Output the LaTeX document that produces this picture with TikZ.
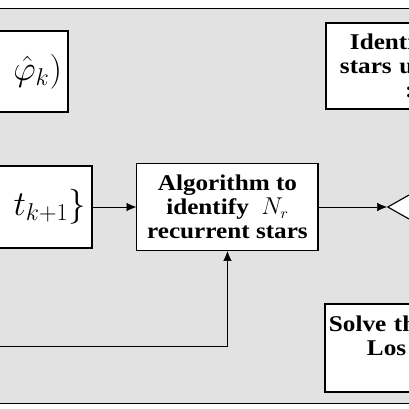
\documentclass[tikz,border=0pt]{standalone}
\usepackage{amsmath}
\usepackage{amssymb}
\usepackage{fontspec}
\setmainfont[FakeStretch=1.12]{Liberation Serif}
\usetikzlibrary{arrows.meta,shapes.geometric,positioning}
\definecolor{panelgray}{RGB}{226,226,226}

\begin{document}
\begin{tikzpicture}[x=0.025cm, y=-0.025cm, >={Latex[length=7pt,width=6pt]}]
\tikzset{node distance=2cm,
    block/.style={rectangle, draw, fill=white, line width=0.8pt, inner sep=0.1cm,
        font=\fontsize{16}{17}\selectfont\bfseries, align=center},
    mathblock/.style={block, font=\fontsize{25}{28}\selectfont, text width=2.25cm,
        align=right, inner sep=0.15cm},
    decision/.style={diamond, draw, fill=white, line width=0.8pt}
}
  \useasboundingbox (0,0) rectangle (409,409);
  \draw[fill=panelgray, line width=0.7pt] (-10,8) rectangle (420,403);

  \node[mathblock, minimum height=2.025cm] (phi) at (17,71.5) {$\hat{\varphi}_k)$};
  \node[mathblock, minimum height=2.05cm] (times) at (41,207) {$t_{k+1}\}$};
  \node[block, right of=times, node distance=4.66cm, minimum width=4.525cm,
        minimum height=2.175cm] (algo) {Algorithm to\\identify \ $N_r$\\recurrent stars};
  \node[block, minimum width=4cm, minimum height=2.15cm, text width=3.8cm, align=left]
        (ident) at (406,66) {\hspace*{0.5cm}Identi\\\hspace*{0.25cm}stars u\\\hspace*{1.875cm}:};
  \node[block, minimum width=4cm, minimum height=2.2cm, text width=3.8cm, align=left]
        (solve) at (405,348) {Solve th\\\hspace*{0.95cm}Los\\\mbox{}};
  \node[decision, minimum width=3cm, minimum height=1.7cm, anchor=west] (check) at (387,207) {};
  \coordinate (fbstart) at (-5,346);

  \draw[->] (times) -- (algo);
  \draw[->] (algo) -- (check);
  \draw[->] (fbstart) -| (algo.south);
\end{tikzpicture}
\end{document}
